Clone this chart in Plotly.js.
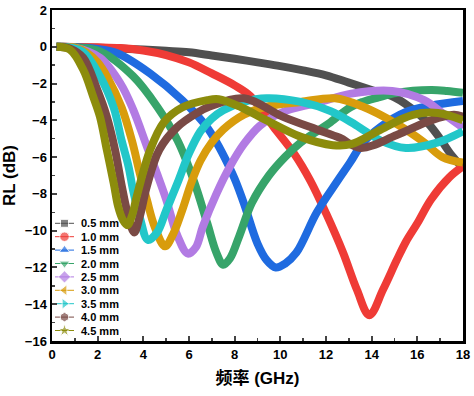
<!DOCTYPE html>
<html>
<head>
<meta charset="utf-8">
<script src="https://cdn.plot.ly/plotly-3.0.1.min.js"></script>
<style>html,body{margin:0;padding:0;background:#fff}#chart{width:474px;height:396px}</style>
</head>
<body>
<div id="chart"></div>
<script>
// Thickness labels (legend) and colours
const labels = ['0.5 mm','1.0 mm','1.5 mm','2.0 mm','2.5 mm','3.0 mm','3.5 mm','4.0 mm','4.5 mm'];
const colors = ['#505050','#ef3b36','#1f6be0','#37a46a','#b27be3','#d89c0c','#22c7c9','#7a4a45','#8c8c0c'];
const symbols = ['square','circle','triangle-up','triangle-down','diamond','triangle-left','triangle-right','hexagon','star'];

// Frequency (GHz) and RL (dB)
const x05 = [0.2,1,2,3,4,5,6,7,8,9,10,11,12,13,14,15,16,16.5,17,17.5,18];
const y05 = [0,-0.02,-0.05,-0.1,-0.15,-0.22,-0.3,-0.47,-0.65,-0.85,-1.05,-1.28,-1.55,-1.95,-2.35,-2.75,-3.6,-4.2,-5.0,-5.9,-6.6];

const x10 = [0.2,1,2,3,4,5,6,7,8,8.7,9.7,10.6,11.3,12,12.75,13.35,13.9,14.5,15.1,15.5,16,16.6,17.4,18];
const y10 = [0,-0.01,-0.03,-0.07,-0.2,-0.45,-0.85,-1.45,-2.1,-2.7,-4.35,-5.8,-7.25,-9.05,-11.2,-13.2,-14.6,-13.2,-11.6,-10.6,-9.6,-8.3,-7.1,-6.5];

const x15 = [0.2,1,2,2.85,4.3,5.7,6.8,7.9,8.4,9.0,9.4,9.8,10.2,10.7,11.6,12.5,13.05,13.6,14.4,15.5,16.6,18];
const y15 = [0,-0.02,-0.12,-0.35,-1.45,-2.9,-4.4,-6.9,-8.5,-10.7,-11.6,-12.0,-11.8,-11.2,-9.0,-7.3,-6.3,-5.25,-4.35,-3.55,-3.2,-2.95];

const x20 = [0.2,1,2.1,3.55,4.6,5.5,6.2,6.8,7.2,7.5,7.8,8.2,8.75,9.5,10.2,10.9,11.6,12.2,13.05,13.6,14.3,15.1,16.6,17.3,18];
const y20 = [0,-0.03,-0.25,-1.6,-3.25,-5.1,-7.25,-9.6,-11.2,-11.85,-11.5,-10.3,-8.5,-7.0,-6.0,-5.2,-4.6,-4.1,-3.3,-3.0,-2.75,-2.5,-2.35,-2.4,-2.5];

const x25 = [0.2,1,2.1,3.0,3.55,4.15,4.6,5.0,5.5,5.95,6.3,6.6,7.2,7.8,8.4,9.1,10.1,11.6,13.1,14.9,16.3,17.1,18];
const y25 = [0,-0.05,-0.6,-2.0,-3.4,-5.4,-6.9,-8.3,-10.3,-11.25,-10.9,-9.8,-8.0,-6.5,-5.3,-4.3,-3.55,-3.05,-2.55,-2.4,-2.9,-3.6,-4.4];

const x30 = [0.2,1,1.5,2,2.4,3.05,3.5,3.85,4.15,4.5,4.95,5.3,5.7,6.1,6.5,7.0,7.5,8.4,9.4,10.9,12.4,13.6,15.1,16.3,17.1,18];
const y30 = [0,-0.05,-0.3,-0.85,-1.6,-3.3,-5.1,-6.9,-8.3,-9.8,-10.85,-10.2,-8.9,-7.4,-6.2,-5.2,-4.5,-3.7,-3.25,-3.0,-2.8,-3.25,-4.2,-5.2,-6.0,-6.3];

const x35 = [0.2,0.8,1.37,2.1,2.7,3.05,3.35,3.55,3.85,4.2,4.6,5.0,5.5,6.0,6.5,7.0,7.5,8.4,9.4,10.9,12.2,13.3,14.4,15.5,16.9,18];
const y35 = [0,-0.05,-0.3,-1.6,-3.3,-5.1,-6.5,-7.8,-9.3,-10.5,-10.1,-8.9,-7.4,-5.8,-4.6,-3.9,-3.45,-3.0,-2.8,-3.0,-3.5,-4.25,-5.1,-5.5,-5.2,-4.6];

const x40 = [0.2,0.8,1.37,1.97,2.4,2.76,3.06,3.3,3.6,3.85,4.15,4.7,5.5,6.35,6.9,8.4,10.1,11.6,12.6,13.5,15.1,16.6,17.6,18];
const y40 = [0,-0.1,-0.6,-2.3,-3.8,-5.6,-7.6,-9.0,-10.1,-9.2,-7.6,-5.6,-4.35,-3.6,-3.25,-2.8,-3.8,-4.5,-4.95,-5.5,-4.8,-4.0,-3.7,-3.8];

const x45 = [0.2,0.79,1.37,1.8,2.1,2.4,2.7,2.9,3.1,3.3,3.5,3.7,4.3,4.9,5.7,6.8,7.3,8.3,9.4,10.9,12.3,13.1,14.4,15.8,16.9,18];
const y45 = [0,-0.16,-1.25,-2.7,-3.8,-5.6,-7.4,-8.7,-9.4,-9.7,-9.2,-8.2,-5.6,-4.1,-3.3,-2.9,-2.85,-3.3,-4.0,-4.9,-5.35,-5.3,-4.5,-3.7,-3.6,-4.0];

const xs = [x05,x10,x15,x20,x25,x30,x35,x40,x45];
const ys = [y05,y10,y15,y20,y25,y30,y35,y40,y45];

const FONT = 'Liberation Sans, Arial, sans-serif';
const traces = [];
for (let i = 0; i < labels.length; i++) {
  traces.push({
    x: xs[i], y: ys[i], type: 'scatter', mode: 'lines',
    line: {color: colors[i], width: 8, shape: 'spline', smoothing: 1},
    showlegend: false, hoverinfo: 'skip'
  });
}
// custom compact legend, drawn in a pixel-like overlay axis
const legRow0 = 213.3, legStep = 13.4;
const annotations = [];
for (let i = 0; i < labels.length; i++) {
  const r = legRow0 + legStep * i;
  traces.push({
    x: [3, 12.5, 22], y: [r, r, r], xaxis: 'x2', yaxis: 'y2', type: 'scatter',
    mode: 'lines+markers', showlegend: false, hoverinfo: 'skip',
    line: {color: colors[i], width: 1},
    marker: {color: colors[i], symbol: symbols[i], size: [0, i === 0 ? 8 : 9.5, 0]}
  });
  annotations.push({
    xref: 'x2', yref: 'y2', x: 27, y: r, text: '<b>' + labels[i] + '</b>',
    showarrow: false, xanchor: 'left', yanchor: 'middle',
    font: {family: FONT, size: 11, color: '#000'}
  });
}

const layout = {
  width: 474, height: 396,
  margin: {l: 52, r: 11, t: 10, b: 55},
  paper_bgcolor: '#fff', plot_bgcolor: '#fff',
  font: {family: FONT, color: '#000'},
  showlegend: false,
  xaxis: {
    range: [0, 18], dtick: 2, tick0: 0, ticks: 'inside', ticklen: 5, tickwidth: 2,
    minor: {dtick: 1, ticks: 'inside', ticklen: 3, tickwidth: 1.5},
    showline: true, linewidth: 2.5, linecolor: '#000', mirror: true,
    showgrid: false, zeroline: false,
    tickfont: {family: FONT, size: 13, color: '#000', weight: 'bold'},
    title: {text: '<b>频率 (GHz)</b>', font: {family: 'Liberation Sans, Noto Sans CJK SC, sans-serif', size: 17, color: '#000'}, standoff: 11}
  },
  yaxis: {
    range: [-16, 2], dtick: 2, tick0: 0, ticks: 'inside', ticklen: 5, tickwidth: 2,
    minor: {dtick: 1, ticks: 'inside', ticklen: 3, tickwidth: 1.5},
    showline: true, linewidth: 2.5, linecolor: '#000', mirror: true,
    showgrid: false, zeroline: false,
    tickfont: {family: FONT, size: 13, color: '#000', weight: 'bold'},
    title: {text: '<b>RL (dB)</b>', font: {family: FONT, size: 17, color: '#000'}, standoff: 6}
  },
  xaxis2: {overlaying: 'x', range: [0, 411], visible: false, fixedrange: true},
  yaxis2: {overlaying: 'y', range: [331, 0], visible: false, fixedrange: true},
  annotations: annotations
};

Plotly.newPlot('chart', traces, layout, {displayModeBar: false, staticPlot: true});
</script>
</body>
</html>
